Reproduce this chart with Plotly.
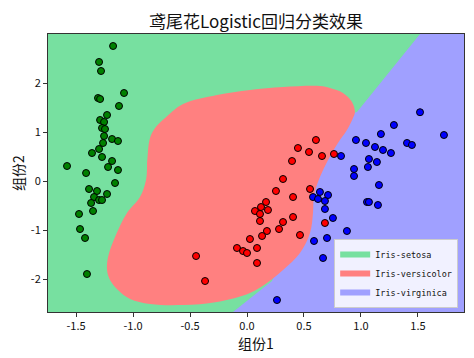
import plotly.graph_objects as go

# ---------------- data ----------------
setosa_x = [-1.175, -1.298, -1.281, -1.079, -1.307, -1.289, -1.123, -1.228, -1.289, -1.254,
            -1.272, -1.246, -1.254, -1.184, -1.132, -1.263, -1.298, -1.360, -1.272, -1.184,
            -1.579, -1.219, -1.132, -1.412, -1.158, -1.386, -1.316, -1.228, -1.342, -1.298,
            -1.272, -1.368, -1.351, -1.474, -1.465, -1.421, -1.404]
setosa_y = [2.755, 2.429, 2.245, 1.796, 1.694, 1.673, 1.531, 1.347, 1.245, 1.204,
            1.082, 1.061, 0.918, 0.857, 0.816, 0.776, 0.653, 0.571, 0.490, 0.408,
            0.306, 0.286, 0.224, 0.163, -0.041, -0.163, -0.204, -0.265, -0.327, -0.388,
            -0.388, -0.449, -0.612, -0.673, -0.980, -1.163, -1.898]

versicolor_x = [0.605, 0.447, 0.544, 0.658, 0.763, 0.395, 0.316, 0.254, 0.553, 0.167,
                0.404, 0.123, 0.184, 0.070, 0.114, 0.114, 0.404, 0.316, 0.175, 0.281,
                0.132, 0.465, 0.026, -0.088, -0.035, 0.000, 0.088, 0.088, -0.447, -0.368,
                0.684]
versicolor_y = [0.837, 0.673, 0.592, 0.510, 0.551, 0.408, 0.041, -0.204, -0.163, -0.429,
                -0.327, -0.531, -0.592, -0.612, -0.673, -0.816, -0.735, -0.837, -1.020, -0.980,
                -1.122, -1.102, -1.184, -1.367, -1.429, -1.469, -1.367, -1.673, -1.531, -2.041,
                -0.857]

virginica_x = [0.956, 0.825, 0.939, 0.939, 0.640, 0.579, 0.623, 0.711, 0.684, 0.684,
               0.754, 0.877, 0.702, 0.588, 0.667, 0.263, 1.518, 1.289, 1.728, 1.175,
               1.044, 1.123, 1.404, 1.447, 1.193, 1.263, 1.070, 1.140, 1.061, 1.158,
               1.053, 1.070, 1.149]
virginica_y = [0.837, 0.510, 0.245, 0.102, -0.224, -0.327, -0.367, -0.286, -0.408, -0.571,
               -0.755, -1.020, -1.163, -1.224, -1.571, -2.429, 1.404, 1.143, 0.939, 0.959,
               0.776, 0.694, 0.776, 0.735, 0.633, 0.571, 0.449, 0.388, 0.286, -0.082,
               -0.429, -0.429, -0.490]

# decision region outlines
x_range = [-1.746, 1.904]
y_range = [-2.673, 3.0]

red_region_x = [-0.868, -0.851, -0.807, -0.719, -0.561, -0.263, 0.026, 0.316, 0.640, 0.728,
                0.842, 0.921, 0.947, 0.930, 0.877, 0.798, 0.711, 0.640, 0.588, 0.579,
                0.553, 0.465, 0.316, 0.175, 0.026, -0.263, -0.561, -0.851, -1.026, -1.132,
                -1.202, -1.228, -1.219, -1.158, -1.053, -0.939, -0.886, -0.877]
red_region_y = [0.633, 0.878, 1.082, 1.286, 1.571, 1.755, 1.857, 1.918, 1.939, 1.898,
                1.796, 1.612, 1.408, 1.286, 1.041, 0.776, 0.429, 0.082, -0.286, -0.653,
                -1.061, -1.469, -1.816, -2.082, -2.286, -2.469, -2.531, -2.510, -2.408, -2.224,
                -2.020, -1.816, -1.551, -1.143, -0.653, -0.327, 0.020, 0.367]

blue_region_x = [1.518, 1.904, 1.904, -0.123, 0.219, 0.377, 0.465, 0.728, 0.965]
blue_region_y = [3.0, 3.0, -2.673, -2.673, -2.041, -1.204, 0.020, 1.245, 1.408]

x_ticks = [-1.5, -1.0, -0.5, 0.0, 0.5, 1.0, 1.5]
x_tick_labels = ['-1.5', '-1.0', '-0.5', '0.0', '0.5', '1.0', '1.5']
y_ticks = [-2, -1, 0, 1, 2]
y_tick_labels = ['-2', '-1', '0', '1', '2']

class_names = ['Iris-setosa', 'Iris-versicolor', 'Iris-virginica']
light_colors = ['#77E0A0', '#FF8080', '#A0A0FF']
dark_colors = ['#008000', '#FF0000', '#0000FF']

FONT = "Noto Sans CJK SC, SimHei, sans-serif"
MONO = "DejaVu Sans Mono, Liberation Mono, monospace"

fig = go.Figure()

# green background region = full plot rectangle
fig.add_trace(go.Scatter(
    x=[x_range[0], x_range[1], x_range[1], x_range[0]],
    y=[y_range[0], y_range[0], y_range[1], y_range[1]],
    fill='toself', fillcolor=light_colors[0], mode='none',
    name=class_names[0], hoverinfo='skip', legendrank=1))
fig.add_trace(go.Scatter(
    x=blue_region_x, y=blue_region_y,
    fill='toself', fillcolor=light_colors[2], mode='none',
    name=class_names[2], hoverinfo='skip', legendrank=3))
fig.add_trace(go.Scatter(
    x=red_region_x, y=red_region_y, line_shape='spline',
    fill='toself', fillcolor=light_colors[1], mode='none',
    name=class_names[1], hoverinfo='skip', legendrank=2))

for xs, ys, c in [(setosa_x, setosa_y, dark_colors[0]),
                  (versicolor_x, versicolor_y, dark_colors[1]),
                  (virginica_x, virginica_y, dark_colors[2])]:
    fig.add_trace(go.Scatter(
        x=xs, y=ys, mode='markers', showlegend=False,
        marker=dict(color=c, size=7, line=dict(color='black', width=1))))

# the page body adds an 8px offset, so margins are shifted accordingly
fig.update_layout(
    width=474, height=358,
    margin=dict(l=40, r=18, t=26, b=54),
    paper_bgcolor='white', plot_bgcolor=light_colors[0],
    font=dict(family=FONT, color='#111', size=11),
    title=dict(text='鸢尾花Logistic回归分类效果', xref='paper', x=0.5, xanchor='center',
               yref='container', y=0.96, yanchor='middle',
               font=dict(size=17, family=FONT, color='#111')),
    showlegend=True,
    legend=dict(x=0.986, y=0.014, xanchor='right', yanchor='bottom',
                bgcolor='rgba(255,255,255,0.85)', bordercolor='#cccccc', borderwidth=1,
                font=dict(size=8.5, family=MONO, color='#111'), itemwidth=30,
                traceorder='normal'),
)
fig.update_xaxes(range=x_range, tickvals=x_ticks, ticktext=x_tick_labels,
                 showgrid=False, zeroline=False, showline=True, linecolor='#333',
                 linewidth=1, mirror=True, ticks='outside', ticklen=4, tickcolor='#333',
                 automargin=False,
                 title=dict(text='组份1', font=dict(size=14), standoff=0),
                 tickfont=dict(size=11))
fig.update_yaxes(range=y_range, tickvals=y_ticks, ticktext=y_tick_labels,
                 showgrid=False, zeroline=False, showline=True, linecolor='#333',
                 linewidth=1, mirror=True, ticks='outside', ticklen=4, tickcolor='#333',
                 automargin=False,
                 title=dict(text='组份2', font=dict(size=14), standoff=6),
                 tickfont=dict(size=11))

fig.write_html("out.html")
